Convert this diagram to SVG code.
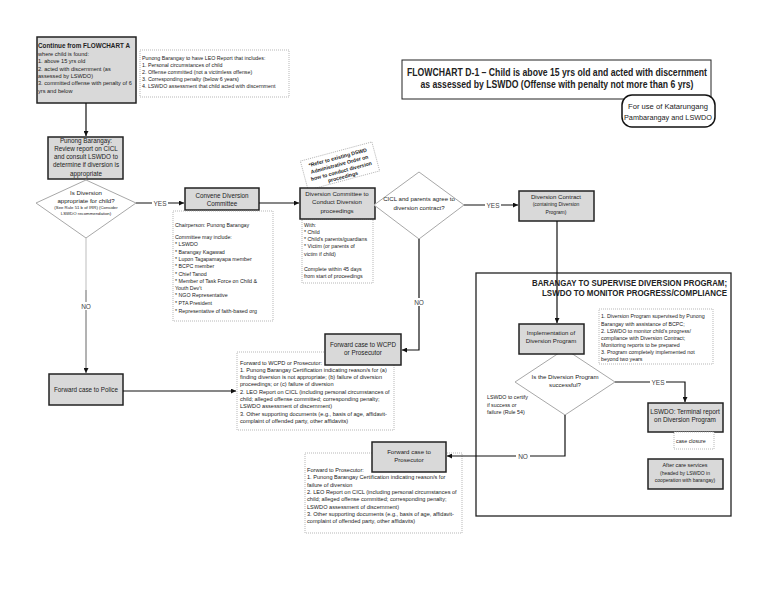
<svg xmlns="http://www.w3.org/2000/svg" width="768" height="594" viewBox="0 0 768 594">
<defs>
<marker id="ah" viewBox="0 0 6 6" refX="6" refY="3" markerWidth="5" markerHeight="5" markerUnits="userSpaceOnUse" orient="auto"><path d="M0,0 L6,3 L0,6 z" fill="#111"/></marker>
</defs>
<style>
text{font-family:"Liberation Sans",Arial,sans-serif;fill:#222}
.box{fill:#d9d9d9;stroke:#222;stroke-width:1.5}
.dia{fill:#fff;stroke:#a8a8a8;stroke-width:1}
.note{fill:#fff;stroke:#9a9a9a;stroke-width:0.7;stroke-dasharray:1 1}
.ln{fill:none;stroke:#111;stroke-width:1.2}
.t7{font-size:6.3px;text-anchor:middle}
.t65{font-size:6.1px;text-anchor:middle}
.s5{font-size:5px;text-anchor:middle}
.n{font-size:5.3px}
.nw{font-size:5.6px}
.lbl{font-size:6.5px;text-anchor:middle;fill:#444}
.bold{font-weight:bold}
</style>
<rect width="768" height="594" fill="#fff"/>

<g id="title">
<rect x="402" y="60" width="309" height="39" fill="#fff" stroke="#222" stroke-width="1"/>
<text x="557" y="76" class="bold" font-size="10" text-anchor="middle" textLength="300" lengthAdjust="spacingAndGlyphs">FLOWCHART D-1 – Child is above 15 yrs old and acted with discernment</text>
<text x="557" y="88" class="bold" font-size="10" text-anchor="middle" textLength="273" lengthAdjust="spacingAndGlyphs">as assessed by LSWDO (Offense with penalty not more than 6 yrs)</text>
</g>
<g id="use-note">
<rect x="622" y="95" width="93" height="32" rx="10" fill="#fff" stroke="#111" stroke-width="1.5"/>
<text x="668" y="109" font-size="8" text-anchor="middle" textLength="80" lengthAdjust="spacingAndGlyphs">For use of Katarungang</text>
<text x="668" y="120" font-size="8" text-anchor="middle" textLength="88" lengthAdjust="spacingAndGlyphs">Pambarangay and LSWDO</text>
</g>

<g id="continue">
<rect x="37" y="37" width="99" height="66" class="box"/>
<text x="38" y="48" class="bold" font-size="7.5" textLength="92" lengthAdjust="spacingAndGlyphs">Continue from FLOWCHART A</text>
<text x="38" y="56" font-size="5.6">where child is found:</text>
<text x="38" y="63" font-size="5.6">1. above 15 yrs old</text>
<text x="38" y="71" font-size="5.6">2. acted with discernment (as</text>
<text x="38" y="78" font-size="5.6">assessed by LSWDO)</text>
<text x="38" y="85" font-size="5.6">3. committed offense with penalty of 6</text>
<text x="38" y="93" font-size="5.6">yrs and below</text>
</g>

<g id="leo-note">
<rect x="140" y="50" width="149" height="47" class="note"/>
<text x="142" y="60" class="n">Punong Barangay to have LEO  Report that includes:</text>
<text x="142" y="67" class="n">1. Personal circumstances of child</text>
<text x="142" y="74" class="n">2. Offense committed (not a victimless offense)</text>
<text x="142" y="81" class="n">3. Corresponding penalty (below 6 years)</text>
<text x="142" y="88" class="n">4. LSWDO assessment that child acted with discernment</text>
</g>

<g id="punong">
<rect x="48" y="137" width="75" height="42" class="box"/>
<text x="86" y="143" class="t7">Punong Barangay:</text>
<text x="86" y="151" class="t7">Review report on CICL</text>
<text x="86" y="159" class="t7">and consult LSWDO to</text>
<text x="86" y="167" class="t7">determine if diversion is</text>
<text x="86" y="176" class="t7">appropriate</text>
</g>

<g id="dia-appropriate">
<polygon points="36,203 86,180 136,203 86,238" class="dia"/>
<text x="86" y="195" class="t65">Is Diversion</text>
<text x="86" y="203" class="t65">appropriate for child?</text>
<text x="86" y="209" font-size="4.3" text-anchor="middle">(See Rule 51 b of IRR) (Consider</text>
<text x="86" y="215" font-size="4.3" text-anchor="middle">LSWDO recommendation)</text>
</g>

<g id="convene">
<rect x="185" y="188" width="74" height="22" class="box"/>
<text x="222" y="198" class="t7">Convene Diversion</text>
<text x="222" y="206" class="t7">Committee</text>
</g>

<g id="chair-note">
<rect x="173" y="211" width="100" height="110" class="note"/>
<text x="175" y="227" class="n">Chairperson: Punong Barangay</text>
<text x="175" y="239" class="n">Committee may include:</text>
<text x="175" y="246" class="n">* LSWDO</text>
<text x="175" y="254" class="n">* Barangay Kagawad</text>
<text x="175" y="261" class="n">* Lupon Tagapamayapa member</text>
<text x="175" y="268" class="n">* BCPC member</text>
<text x="175" y="276" class="n">* Chief Tanod</text>
<text x="175" y="283" class="n">* Member of Task Force on Child &amp;</text>
<text x="175" y="290" class="n">Youth Dev't</text>
<text x="175" y="297" class="n">* NGO Representative</text>
<text x="175" y="305" class="n">* PTA President</text>
<text x="175" y="313" class="n">* Representative of faith-based org</text>
</g>

<g id="refer-note" transform="translate(340,166) rotate(-15)">
<rect x="-37" y="-15" width="74" height="30" class="note"/>
<text x="0" y="-7" class="bold" font-size="5.2" text-anchor="middle">*Refer to existing DSWD</text>
<text x="0" y="0" class="bold" font-size="5.2" text-anchor="middle">Administrative Order on</text>
<text x="0" y="7" class="bold" font-size="5.2" text-anchor="middle">how to conduct diversion</text>
<text x="0" y="13" class="bold" font-size="5.2" text-anchor="middle">proceedings</text>
</g>

<g id="with-note">
<rect x="302" y="219" width="71" height="64" class="note"/>
<text x="304" y="227" class="n">With:</text>
<text x="304" y="234" class="n">* Child</text>
<text x="304" y="241" class="n">* Child's parents/guardians</text>
<text x="304" y="248" class="n">* Victim (or parents of</text>
<text x="304" y="256" class="n">victim if child)</text>
<text x="304" y="271" class="n">Complete within 45 days</text>
<text x="304" y="278" class="n">from start of proceedings</text>
</g>

<g id="div-committee">
<rect x="300" y="188" width="75" height="31" class="box"/>
<text x="337" y="196" class="t65">Diversion Committee to</text>
<text x="337" y="204" class="t65">Conduct Diversion</text>
<text x="337" y="213" class="t65">proceedings</text>
</g>

<g id="dia-agree">
<polygon points="374,205 419,172 464,205 419,239" class="dia"/>
<text x="419" y="201" class="t65">CICL and parents agree to</text>
<text x="419" y="210" class="t65">diversion contract?</text>
</g>

<g id="contract">
<rect x="519" y="191" width="75" height="30" class="box"/>
<text x="556" y="199" class="t65">Diversion Contract</text>
<text x="556" y="206" class="s5">(containing Diversion</text>
<text x="556" y="214" class="s5">Program)</text>
</g>

<g id="supervise-frame">
<rect x="476" y="273" width="255" height="243" fill="none" stroke="#222" stroke-width="1.3"/>
<text x="727" y="286" class="bold" font-size="9.5" text-anchor="end" textLength="195" lengthAdjust="spacingAndGlyphs">BARANGAY TO SUPERVISE DIVERSION PROGRAM;</text>
<text x="727" y="296" class="bold" font-size="9.5" text-anchor="end" textLength="185" lengthAdjust="spacingAndGlyphs">LSWDO TO MONITOR PROGRESS/COMPLIANCE</text>
</g>

<g id="monitor-note">
<rect x="599" y="309" width="114" height="55" class="note"/>
<text x="601" y="318" class="n">1. Diversion Program supervised by Punong</text>
<text x="601" y="326" class="n">Barangay with assistance of BCPC;</text>
<text x="601" y="333" class="n">2. LSWDO to monitor child's progress/</text>
<text x="601" y="340" class="n">compliance with Diversion Contract;</text>
<text x="601" y="347" class="n">Monitoring reports to be prepared</text>
<text x="601" y="354" class="n">3. Program completely implemented not</text>
<text x="601" y="361" class="n">beyond two years</text>
</g>

<g id="dia-success">
<polygon points="515,382 565,349 615,382 565,415" class="dia"/>
<text x="565" y="379" class="t65">Is the Diversion Program</text>
<text x="565" y="387" class="t65">successful?</text>
</g>

<g id="implementation">
<rect x="519" y="324" width="65" height="30" class="box"/>
<text x="551" y="335" class="t65">Implementation of</text>
<text x="551" y="343" class="t65">Diversion Program</text>
</g>

<g id="certify-note">
<text x="487" y="399" class="n">LSWDO to certify</text>
<text x="487" y="407" class="n">if success or</text>
<text x="487" y="414" class="n">failure (Rule 54)</text>
</g>

<g id="terminal">
<rect x="648" y="403" width="75" height="29" class="box"/>
<text x="685" y="414" font-size="6.4" text-anchor="middle">LSWDO: Terminal report</text>
<text x="685" y="422" font-size="6.4" text-anchor="middle">on Diversion Program</text>
</g>
<g id="closure-note">
<rect x="674" y="432" width="40" height="17" class="note"/>
<text x="676" y="443" class="n">case closure</text>
</g>
<g id="aftercare">
<rect x="648" y="459" width="75" height="30" class="box"/>
<text x="685" y="467" font-size="6" text-anchor="middle" textLength="45" lengthAdjust="spacingAndGlyphs">After care services</text>
<text x="685" y="475" class="s5">(headed by LSWDO in</text>
<text x="685" y="482" class="s5">cooperation with barangay)</text>
</g>

<g id="wcpd-note">
<rect x="237" y="352" width="157" height="78" class="note"/>
<text x="240" y="365" class="nw">Forward to WCPD or Prosecutor:</text>
<text x="240" y="372" class="nw">1. Punong Barangay Certification indicating reason/s for (a)</text>
<text x="240" y="379" class="nw">finding diversion is not appropriate; (b) failure of diversion</text>
<text x="240" y="386" class="nw">proceedings; or (c) failure of diversion</text>
<text x="240" y="394" class="nw">2. LEO Report on CICL (including personal circumstances of</text>
<text x="240" y="401" class="nw">child; alleged offense committed; corresponding penalty;</text>
<text x="240" y="408" class="nw">LSWDO assessment of discernment)</text>
<text x="240" y="416" class="nw">3. Other supporting documents (e.g., basis of age, affidavit-</text>
<text x="240" y="423" class="nw">complaint of offended party, other affidavits)</text>
</g>
<g id="wcpd">
<rect x="325" y="334" width="76" height="31" class="box"/>
<text x="363" y="347" class="t7">Forward case to WCPD</text>
<text x="363" y="355" class="t7">or Prosecutor</text>
</g>

<g id="police">
<rect x="49" y="374" width="74" height="31" class="box"/>
<text x="86" y="392" font-size="6.3" text-anchor="middle">Forward case to Police</text>
</g>

<g id="prosecutor-note">
<rect x="305" y="453" width="157" height="80" class="note"/>
<text x="307" y="472" class="nw">Forward to Prosecutor:</text>
<text x="307" y="479" class="nw">1. Punong Barangay Certification indicating reason/s for</text>
<text x="307" y="487" class="nw">failure of diversion</text>
<text x="307" y="494" class="nw">2. LEO Report on CICL (including personal circumstances of</text>
<text x="307" y="501" class="nw">child; alleged offense committed; corresponding penalty;</text>
<text x="307" y="509" class="nw">LSWDO assessment of discernment)</text>
<text x="307" y="516" class="nw">3. Other supporting documents (e.g., basis of age, affidavit-</text>
<text x="307" y="523" class="nw">complaint of offended party, other affidavits)</text>
</g>
<g id="prosecutor">
<rect x="372" y="442" width="74" height="30" class="box"/>
<text x="409" y="454" class="t65">Forward case to</text>
<text x="409" y="462" class="t65">Prosecutor</text>
</g>

<g id="connectors">
<path d="M86,103 V136" class="ln" marker-end="url(#ah)"/>
<path d="M136,203 H184" class="ln" marker-end="url(#ah)"/>
<path d="M259,203 H299" class="ln" marker-end="url(#ah)"/>
<path d="M464,205 H518" class="ln" marker-end="url(#ah)"/>
<path d="M557,221 V323" class="ln" stroke-width="1.5" marker-end="url(#ah)"/>
<path d="M419,239 V350 H402" class="ln" stroke-width="1.5" marker-end="url(#ah)"/>
<path d="M86,238 V290" fill="none" stroke="#c8c8c8" stroke-width="1.2"/>
<path d="M86,290 V373" fill="none" stroke="#666" stroke-width="1" marker-end="url(#ah)"/>
<path d="M123,391 H236" class="ln" stroke-width="1.5" marker-end="url(#ah)"/>
<path d="M615,382 H685 V402" class="ln" stroke-width="1.5" marker-end="url(#ah)"/>
<path d="M565,415 V456 H447" class="ln" stroke-width="1.5" marker-end="url(#ah)"/>
<rect x="152" y="199" width="16" height="8" fill="#fff"/>
<text x="160" y="205.5" class="lbl">YES</text>
<rect x="485" y="201" width="16" height="8" fill="#fff"/>
<text x="493" y="207.5" class="lbl">YES</text>
<rect x="650" y="378" width="16" height="8" fill="#fff"/>
<text x="658" y="384.5" class="lbl">YES</text>
<rect x="412" y="298" width="14" height="8" fill="#fff"/>
<text x="419" y="304.5" class="lbl">NO</text>
<rect x="79" y="302" width="14" height="8" fill="#fff"/>
<text x="86" y="308.5" class="lbl">NO</text>
<rect x="516" y="452" width="14" height="8" fill="#fff"/>
<text x="523" y="458.5" class="lbl">NO</text>
</g>
</svg>
